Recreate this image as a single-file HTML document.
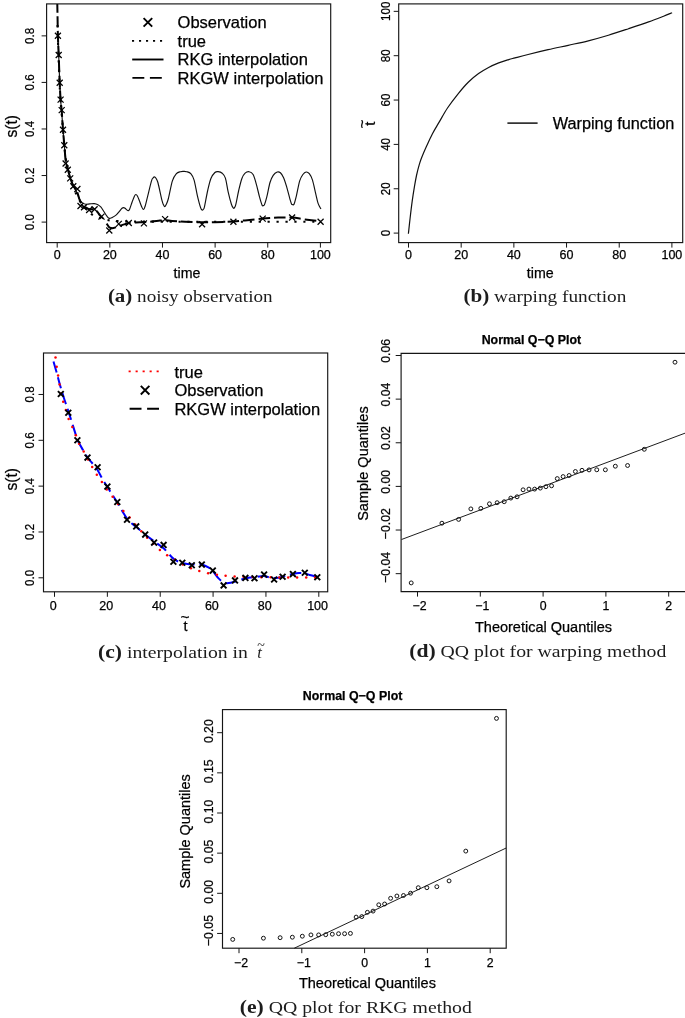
<!DOCTYPE html>
<html lang="en"><head><meta charset="utf-8"><title>Figure</title>
<style>html,body{margin:0;padding:0;background:#fff}svg{display:block}</style>
</head><body>
<svg width="685" height="1018" viewBox="0 0 685 1018">
<rect width="685" height="1018" fill="#fff"/>
<g id="pa">
<path d="M57.9 35.7 C58.03 38.92 58.4 47.17 58.7 55 C59 62.83 59.38 75.27 59.7 82.7 C60.02 90.13 60.27 94.72 60.6 99.6 C60.93 104.48 61.3 106.97 61.7 112 C62.1 117.03 62.57 124.25 63 129.8 C63.43 135.35 63.85 140.23 64.3 145.3 C64.75 150.37 65.12 156.35 65.7 160.2 C66.28 164.05 67.03 165.5 67.8 168.4 C68.57 171.3 69.37 174.7 70.3 177.6 C71.23 180.5 72.28 183.25 73.4 185.8 C74.52 188.35 75.98 190.7 77 192.9 C78.02 195.1 78.65 197.38 79.5 199 C80.35 200.62 81.07 201.73 82.1 202.6 C83.13 203.47 84.43 203.98 85.7 204.2 C86.97 204.42 88.27 204 89.7 203.9 C91.13 203.8 92.93 203.47 94.3 203.6 C95.67 203.73 96.78 204.1 97.9 204.7 C99.02 205.3 99.98 206.02 101 207.2 C102.02 208.38 102.98 210.27 104 211.8 C105.02 213.33 106.22 215.3 107.1 216.4 C107.98 217.5 108.45 218.23 109.3 218.4 C110.15 218.57 111.03 217.98 112.2 217.4 C113.37 216.82 115.1 215.92 116.3 214.9 C117.5 213.88 118.45 212.42 119.4 211.3 C120.35 210.18 121.3 208.82 122 208.2 C122.7 207.58 123.08 207.58 123.6 207.6 C124.12 207.62 124.57 207.92 125.1 208.3 C125.63 208.68 126.28 209.52 126.8 209.9 C127.32 210.28 127.73 210.72 128.2 210.6 C128.67 210.48 128.93 210.67 129.6 209.2 C130.27 207.73 131.4 203.97 132.2 201.8 C133 199.63 133.78 197.42 134.4 196.2 C135.02 194.98 135.4 194.53 135.9 194.5 C136.4 194.47 136.8 194.92 137.4 196 C138 197.08 138.77 199.17 139.5 201 C140.23 202.83 141.13 205.58 141.8 207 C142.47 208.42 142.93 209.67 143.5 209.5 C144.07 209.33 144.53 208.1 145.2 206 C145.87 203.9 146.45 201.08 147.5 196.9 C148.55 192.72 150.55 184.08 151.5 180.9 C152.45 177.72 152.72 178.47 153.2 177.8 C153.68 177.13 153.97 176.87 154.4 176.9 C154.83 176.93 155.22 177.07 155.8 178 C156.38 178.93 156.88 178.82 157.9 182.5 C158.92 186.18 160.95 196.35 161.9 200.1 C162.85 203.85 163.12 203.92 163.6 205 C164.08 206.08 164.37 206.68 164.8 206.6 C165.23 206.52 165.6 205.85 166.2 204.5 C166.8 203.15 167.37 202.43 168.4 198.5 C169.43 194.57 171.07 185.03 172.4 180.9 C173.73 176.77 175.07 175.23 176.4 173.7 C177.73 172.17 179.2 172.08 180.4 171.7 C181.6 171.32 182.53 171.4 183.6 171.4 C184.67 171.4 185.6 171.32 186.8 171.7 C188 172.08 189.58 172.3 190.8 173.7 C192.02 175.1 193.02 176.5 194.1 180.1 C195.18 183.7 196.23 190.75 197.3 195.3 C198.37 199.85 199.7 204.93 200.5 207.4 C201.3 209.87 201.62 209.8 202.1 210.1 C202.58 210.4 203 209.78 203.4 209.2 C203.8 208.62 203.78 209.72 204.5 206.6 C205.22 203.48 206.63 195.18 207.7 190.5 C208.77 185.82 209.7 181.5 210.9 178.5 C212.1 175.5 213.7 173.65 214.9 172.5 C216.1 171.35 216.88 171.48 218.1 171.6 C219.32 171.72 220.98 172.1 222.2 173.2 C223.42 174.3 224.4 175.05 225.4 178.2 C226.4 181.35 227.2 187.77 228.2 192.1 C229.2 196.43 230.53 201.52 231.4 204.2 C232.27 206.88 232.87 207.67 233.4 208.2 C233.93 208.73 234.18 208.07 234.6 207.4 C235.02 206.73 235.22 207.02 235.9 204.2 C236.58 201.38 237.7 194.78 238.7 190.5 C239.7 186.22 240.83 181.38 241.9 178.5 C242.97 175.62 243.9 174.33 245.1 173.2 C246.3 172.07 247.77 171.48 249.1 171.7 C250.43 171.92 251.9 172.43 253.1 174.5 C254.3 176.57 255.23 180.37 256.3 184.1 C257.37 187.83 258.55 193.43 259.5 196.9 C260.45 200.37 261.38 203.45 262 204.9 C262.62 206.35 262.78 205.65 263.2 205.6 C263.62 205.55 263.9 206.05 264.5 204.6 C265.1 203.15 265.88 200.58 266.8 196.9 C267.72 193.22 268.93 186.1 270 182.5 C271.07 178.9 272 177.05 273.2 175.3 C274.4 173.55 276 172.42 277.2 172 C278.4 171.58 279.33 171.85 280.4 172.8 C281.47 173.75 282.53 175.28 283.6 177.7 C284.67 180.12 285.73 183.7 286.8 187.3 C287.87 190.9 289.2 196.48 290 199.3 C290.8 202.12 291.12 203.32 291.6 204.2 C292.08 205.08 292.48 204.63 292.9 204.6 C293.32 204.57 293.5 205.55 294.1 204 C294.7 202.45 295.57 199.15 296.5 195.3 C297.43 191.45 298.63 184.37 299.7 180.9 C300.77 177.43 301.83 175.98 302.9 174.5 C303.97 173.02 305.03 172.13 306.1 172 C307.17 171.87 308.23 172.35 309.3 173.7 C310.37 175.05 311.43 176.77 312.5 180.1 C313.57 183.43 314.77 189.82 315.7 193.7 C316.63 197.58 317.23 200.85 318.1 203.4 C318.97 205.95 320.43 208.07 320.9 209" fill="none" stroke="#111" stroke-width="1.15" stroke-linejoin="round"/>
<path d="M57.5 22 C57.55 24.33 57.63 30.5 57.8 36 C57.97 41.5 58.23 47.67 58.5 55 C58.77 62.33 59.07 72.5 59.4 80 C59.73 87.5 60.1 94.17 60.5 100 C60.9 105.83 61.35 109.67 61.8 115 C62.25 120.33 62.73 126.5 63.2 132 C63.67 137.5 64.1 143 64.6 148 C65.1 153 65.6 158.17 66.2 162 C66.8 165.83 67.47 168.08 68.2 171 C68.93 173.92 69.73 176.83 70.6 179.5 C71.47 182.17 72.52 184.68 73.4 187 C74.28 189.32 74.97 191.32 75.9 193.4 C76.83 195.48 77.82 197.48 79 199.5 C80.18 201.52 81.58 203.67 83 205.5 C84.42 207.33 86.03 209.02 87.5 210.5 C88.97 211.98 90.38 213.38 91.8 214.4 C93.22 215.42 94.63 216 96 216.6 C97.37 217.2 98.58 217.53 100 218 C101.42 218.47 103.02 219.02 104.5 219.4 C105.98 219.78 107.48 220.07 108.9 220.3 C110.32 220.53 111.55 220.68 113 220.8 C114.45 220.92 115.6 220.9 117.6 221 C119.6 221.1 121.27 221.3 125 221.4 C128.73 221.5 130.83 221.55 140 221.6 C149.17 221.65 163.33 221.68 180 221.7 C196.67 221.72 216.5 221.7 240 221.7 C263.5 221.7 307.5 221.7 321 221.7" fill="none" stroke="#000" stroke-width="2.1" stroke-dasharray="2.2 6.7" stroke-dashoffset="-3"/>
<path d="M57.3 4 C57.35 6.67 57.5 14.72 57.6 20 C57.7 25.28 57.72 29.87 57.9 35.7 C58.08 41.53 58.4 47.17 58.7 55 C59 62.83 59.38 75.27 59.7 82.7 C60.02 90.13 60.27 94.88 60.6 99.6 C60.93 104.32 61.3 105.97 61.7 111 C62.1 116.03 62.57 124.08 63 129.8 C63.43 135.52 63.83 140.1 64.3 145.3 C64.77 150.5 65.22 157.02 65.8 161 C66.38 164.98 67.05 166.37 67.8 169.2 C68.55 172.03 69.37 175.2 70.3 178 C71.23 180.8 72.28 183.75 73.4 186 C74.52 188.25 75.98 189.25 77 191.5 C78.02 193.75 78.65 197.33 79.5 199.5 C80.35 201.67 81.25 203.22 82.1 204.5 C82.95 205.78 83.33 206.4 84.6 207.2 C85.87 208 88.17 208.95 89.7 209.3 C91.23 209.65 92.6 208.97 93.8 209.3 C95 209.63 95.87 210.28 96.9 211.3 C97.93 212.32 98.98 214.2 100 215.4 C101.02 216.6 102.5 217.98 103 218.5" fill="none" stroke="#000" stroke-width="2" stroke-dasharray="11.5 3.4" stroke-dashoffset="2.8"/>
<path d="M106.6 223.6 C107.03 224.2 108.27 226.43 109.2 227.2 C110.13 227.97 111.02 228.2 112.2 228.2 C113.38 228.2 114.93 227.63 116.3 227.2 C117.67 226.77 118.95 226.12 120.4 225.6 C121.85 225.08 123.57 224.53 125 224.1 C126.43 223.67 127.17 223.28 129 223 C130.83 222.72 133.5 222.53 136 222.4 C138.5 222.27 141.33 222.33 144 222.2 C146.67 222.07 149.33 221.87 152 221.6 C154.67 221.33 157.82 220.82 160 220.6 C162.18 220.38 163.1 220.25 165.1 220.3 C167.1 220.35 168.68 220.65 172 220.9 C175.32 221.15 180 221.57 185 221.8 C190 222.03 197 222.23 202 222.3 C207 222.37 209.77 222.33 215 222.2 C220.23 222.07 228.4 221.8 233.4 221.5 C238.4 221.2 240.12 220.88 245 220.4 C249.88 219.92 257.2 219.07 262.7 218.6 C268.2 218.13 273.1 217.77 278 217.6 C282.9 217.43 287.6 217.3 292.1 217.6 C296.6 217.9 300.25 218.8 305 219.4 C309.75 220 318 220.9 320.6 221.2" fill="none" stroke="#000" stroke-width="2" stroke-dasharray="11.5 4"/>
<path d="M54.9 32.7 L60.9 38.7 M54.9 38.7 L60.9 32.7" stroke="#000" stroke-width="1.25" fill="none"/>
<path d="M55.7 52 L61.7 58 M55.7 58 L61.7 52" stroke="#000" stroke-width="1.25" fill="none"/>
<path d="M56.7 79.7 L62.7 85.7 M56.7 85.7 L62.7 79.7" stroke="#000" stroke-width="1.25" fill="none"/>
<path d="M57.6 96.6 L63.6 102.6 M57.6 102.6 L63.6 96.6" stroke="#000" stroke-width="1.25" fill="none"/>
<path d="M58.7 107.1 L64.7 113.1 M58.7 113.1 L64.7 107.1" stroke="#000" stroke-width="1.25" fill="none"/>
<path d="M60 126.8 L66 132.8 M60 132.8 L66 126.8" stroke="#000" stroke-width="1.25" fill="none"/>
<path d="M61.3 142.3 L67.3 148.3 M61.3 148.3 L67.3 142.3" stroke="#000" stroke-width="1.25" fill="none"/>
<path d="M62.6 160.5 L68.6 166.5 M62.6 166.5 L68.6 160.5" stroke="#000" stroke-width="1.25" fill="none"/>
<path d="M64.8 166.8 L70.8 172.8 M64.8 172.8 L70.8 166.8" stroke="#000" stroke-width="1.25" fill="none"/>
<path d="M67.2 175.4 L73.2 181.4 M67.2 181.4 L73.2 175.4" stroke="#000" stroke-width="1.25" fill="none"/>
<path d="M70.3 183.2 L76.3 189.2 M70.3 189.2 L76.3 183.2" stroke="#000" stroke-width="1.25" fill="none"/>
<path d="M74.4 186 L80.4 192 M74.4 192 L80.4 186" stroke="#000" stroke-width="1.25" fill="none"/>
<path d="M77.5 203 L83.5 209 M77.5 209 L83.5 203" stroke="#000" stroke-width="1.25" fill="none"/>
<path d="M81 204.2 L87 210.2 M81 210.2 L87 204.2" stroke="#000" stroke-width="1.25" fill="none"/>
<path d="M86.1 207 L92.1 213 M86.1 213 L92.1 207" stroke="#000" stroke-width="1.25" fill="none"/>
<path d="M91.6 206.2 L97.6 212.2 M91.6 212.2 L97.6 206.2" stroke="#000" stroke-width="1.25" fill="none"/>
<path d="M98.5 213.6 L104.5 219.6 M98.5 219.6 L104.5 213.6" stroke="#000" stroke-width="1.25" fill="none"/>
<path d="M106.3 227.5 L112.3 233.5 M106.3 233.5 L112.3 227.5" stroke="#000" stroke-width="1.25" fill="none"/>
<path d="M115.8 220.9 L121.8 226.9 M115.8 226.9 L121.8 220.9" stroke="#000" stroke-width="1.25" fill="none"/>
<path d="M125.8 220 L131.8 226 M125.8 226 L131.8 220" stroke="#000" stroke-width="1.25" fill="none"/>
<path d="M140.9 220.4 L146.9 226.4 M140.9 226.4 L146.9 220.4" stroke="#000" stroke-width="1.25" fill="none"/>
<path d="M162.1 216.1 L168.1 222.1 M162.1 222.1 L168.1 216.1" stroke="#000" stroke-width="1.25" fill="none"/>
<path d="M199.1 221.2 L205.1 227.2 M199.1 227.2 L205.1 221.2" stroke="#000" stroke-width="1.25" fill="none"/>
<path d="M230.4 218.8 L236.4 224.8 M230.4 224.8 L236.4 218.8" stroke="#000" stroke-width="1.25" fill="none"/>
<path d="M259.7 215.6 L265.7 221.6 M259.7 221.6 L265.7 215.6" stroke="#000" stroke-width="1.25" fill="none"/>
<path d="M289.1 214.5 L295.1 220.5 M289.1 220.5 L295.1 214.5" stroke="#000" stroke-width="1.25" fill="none"/>
<path d="M317.6 218.8 L323.6 224.8 M317.6 224.8 L323.6 218.8" stroke="#000" stroke-width="1.25" fill="none"/>
</g>
<rect x="46.6" y="3.9" width="284.1" height="238.7" fill="none" stroke="#151515" stroke-width="1.15"/>
<line x1="57.2" y1="242.6" x2="57.2" y2="247.6" stroke="#151515" stroke-width="1.0"/>
<text x="57.2" y="259.1" font-family="Liberation Sans, Arial, Helvetica, sans-serif" stroke="#000" stroke-width="0.25" font-size="12.5" fill="#000" text-anchor="middle">0</text>
<line x1="109.84" y1="242.6" x2="109.84" y2="247.6" stroke="#151515" stroke-width="1.0"/>
<text x="109.84" y="259.1" font-family="Liberation Sans, Arial, Helvetica, sans-serif" stroke="#000" stroke-width="0.25" font-size="12.5" fill="#000" text-anchor="middle">20</text>
<line x1="162.48" y1="242.6" x2="162.48" y2="247.6" stroke="#151515" stroke-width="1.0"/>
<text x="162.48" y="259.1" font-family="Liberation Sans, Arial, Helvetica, sans-serif" stroke="#000" stroke-width="0.25" font-size="12.5" fill="#000" text-anchor="middle">40</text>
<line x1="215.12" y1="242.6" x2="215.12" y2="247.6" stroke="#151515" stroke-width="1.0"/>
<text x="215.12" y="259.1" font-family="Liberation Sans, Arial, Helvetica, sans-serif" stroke="#000" stroke-width="0.25" font-size="12.5" fill="#000" text-anchor="middle">60</text>
<line x1="267.76" y1="242.6" x2="267.76" y2="247.6" stroke="#151515" stroke-width="1.0"/>
<text x="267.76" y="259.1" font-family="Liberation Sans, Arial, Helvetica, sans-serif" stroke="#000" stroke-width="0.25" font-size="12.5" fill="#000" text-anchor="middle">80</text>
<line x1="320.4" y1="242.6" x2="320.4" y2="247.6" stroke="#151515" stroke-width="1.0"/>
<text x="320.4" y="259.1" font-family="Liberation Sans, Arial, Helvetica, sans-serif" stroke="#000" stroke-width="0.25" font-size="12.5" fill="#000" text-anchor="middle">100</text>
<line x1="41.6" y1="222.1" x2="46.6" y2="222.1" stroke="#151515" stroke-width="1.0"/>
<text transform="translate(34.3 222.1) rotate(-90) scale(0.93 1)" font-family="Liberation Sans, Arial, Helvetica, sans-serif" stroke="#000" stroke-width="0.25" font-size="12.5" fill="#000" text-anchor="middle">0.0</text>
<line x1="41.6" y1="175.54" x2="46.6" y2="175.54" stroke="#151515" stroke-width="1.0"/>
<text transform="translate(34.3 175.54) rotate(-90) scale(0.93 1)" font-family="Liberation Sans, Arial, Helvetica, sans-serif" stroke="#000" stroke-width="0.25" font-size="12.5" fill="#000" text-anchor="middle">0.2</text>
<line x1="41.6" y1="128.98" x2="46.6" y2="128.98" stroke="#151515" stroke-width="1.0"/>
<text transform="translate(34.3 128.98) rotate(-90) scale(0.93 1)" font-family="Liberation Sans, Arial, Helvetica, sans-serif" stroke="#000" stroke-width="0.25" font-size="12.5" fill="#000" text-anchor="middle">0.4</text>
<line x1="41.6" y1="82.42" x2="46.6" y2="82.42" stroke="#151515" stroke-width="1.0"/>
<text transform="translate(34.3 82.42) rotate(-90) scale(0.93 1)" font-family="Liberation Sans, Arial, Helvetica, sans-serif" stroke="#000" stroke-width="0.25" font-size="12.5" fill="#000" text-anchor="middle">0.6</text>
<line x1="41.6" y1="35.86" x2="46.6" y2="35.86" stroke="#151515" stroke-width="1.0"/>
<text transform="translate(34.3 35.86) rotate(-90) scale(0.93 1)" font-family="Liberation Sans, Arial, Helvetica, sans-serif" stroke="#000" stroke-width="0.25" font-size="12.5" fill="#000" text-anchor="middle">0.8</text>
<text x="187" y="277.8" font-family="Liberation Sans, Arial, Helvetica, sans-serif" stroke="#000" stroke-width="0.25" font-size="14.2" fill="#000" text-anchor="middle">time</text>
<text transform="translate(17.1 126.3) rotate(-90)" font-family="Liberation Sans, Arial, Helvetica, sans-serif" stroke="#000" stroke-width="0.25" font-size="15.6" fill="#000" text-anchor="middle">s(t)</text>
<path d="M143.6 18.1 L152.2 26.7 M143.6 26.7 L152.2 18.1" stroke="#000" stroke-width="1.9" fill="none"/>
<line x1="132" y1="40.9" x2="163.5" y2="40.9" stroke="#000" stroke-width="1.9" stroke-dasharray="2.1 4.9"/>
<line x1="132.2" y1="59.5" x2="163.5" y2="59.5" stroke="#000" stroke-width="1.9"/>
<line x1="132.4" y1="77.9" x2="161.8" y2="77.9" stroke="#000" stroke-width="1.9" stroke-dasharray="11.9 5.6"/>
<text x="177.6" y="28.3" font-family="Liberation Sans, Arial, Helvetica, sans-serif" stroke="#000" stroke-width="0.25" font-size="16.5" fill="#000" text-anchor="start">Observation</text>
<text x="177.6" y="46.75" font-family="Liberation Sans, Arial, Helvetica, sans-serif" stroke="#000" stroke-width="0.25" font-size="16.5" fill="#000" text-anchor="start">true</text>
<text x="177.6" y="65.2" font-family="Liberation Sans, Arial, Helvetica, sans-serif" stroke="#000" stroke-width="0.25" font-size="16.5" fill="#000" text-anchor="start">RKG interpolation</text>
<text x="177.6" y="83.65" font-family="Liberation Sans, Arial, Helvetica, sans-serif" stroke="#000" stroke-width="0.25" font-size="16.5" fill="#000" text-anchor="start">RKGW interpolation</text>
<text x="107.9" y="301.6" font-family="Liberation Serif, Times New Roman, serif" font-size="16.8" fill="#1c1c1c" textLength="164.7" lengthAdjust="spacingAndGlyphs"><tspan font-weight="bold" font-size="18.4">(a)</tspan> noisy observation</text>
<path d="M408.4 233.8 C408.68 231.2 409.47 223.65 410.1 218.2 C410.73 212.75 411.48 206.32 412.2 201.1 C412.92 195.88 413.68 191.17 414.4 186.9 C415.12 182.63 415.67 179.3 416.5 175.5 C417.33 171.7 418.45 167.3 419.4 164.1 C420.35 160.9 421.02 159.27 422.2 156.3 C423.38 153.33 424.83 149.98 426.5 146.3 C428.17 142.62 430.07 138.27 432.2 134.2 C434.33 130.13 436.75 126.27 439.3 121.9 C441.85 117.53 444.3 112.77 447.5 108 C450.7 103.23 455 97.63 458.5 93.3 C462 88.97 465.15 85.28 468.5 82 C471.85 78.72 475.25 76.02 478.6 73.6 C481.95 71.18 485.25 69.28 488.6 67.5 C491.95 65.72 495.35 64.22 498.7 62.9 C502.05 61.58 505.98 60.43 508.7 59.6 C511.42 58.77 511.77 58.75 515 57.9 C518.23 57.05 522.58 55.87 528.1 54.5 C533.62 53.13 541.42 51.23 548.1 49.7 C554.78 48.17 561.5 46.78 568.2 45.3 C574.9 43.82 581.6 42.48 588.3 40.8 C595 39.12 601.7 37.22 608.4 35.2 C615.1 33.18 621.8 30.92 628.5 28.7 C635.2 26.48 642.75 23.98 648.6 21.9 C654.45 19.82 659.68 17.73 663.6 16.2 C667.52 14.67 670.68 13.28 672.1 12.7" fill="none" stroke="#111" stroke-width="1.2"/>
<rect x="398.7" y="3.9" width="284" height="238.7" fill="none" stroke="#151515" stroke-width="1.15"/>
<line x1="408.5" y1="242.6" x2="408.5" y2="247.6" stroke="#151515" stroke-width="1.0"/>
<text x="408.5" y="259.1" font-family="Liberation Sans, Arial, Helvetica, sans-serif" stroke="#000" stroke-width="0.25" font-size="12.5" fill="#000" text-anchor="middle">0</text>
<line x1="461.18" y1="242.6" x2="461.18" y2="247.6" stroke="#151515" stroke-width="1.0"/>
<text x="461.18" y="259.1" font-family="Liberation Sans, Arial, Helvetica, sans-serif" stroke="#000" stroke-width="0.25" font-size="12.5" fill="#000" text-anchor="middle">20</text>
<line x1="513.86" y1="242.6" x2="513.86" y2="247.6" stroke="#151515" stroke-width="1.0"/>
<text x="513.86" y="259.1" font-family="Liberation Sans, Arial, Helvetica, sans-serif" stroke="#000" stroke-width="0.25" font-size="12.5" fill="#000" text-anchor="middle">40</text>
<line x1="566.54" y1="242.6" x2="566.54" y2="247.6" stroke="#151515" stroke-width="1.0"/>
<text x="566.54" y="259.1" font-family="Liberation Sans, Arial, Helvetica, sans-serif" stroke="#000" stroke-width="0.25" font-size="12.5" fill="#000" text-anchor="middle">60</text>
<line x1="619.22" y1="242.6" x2="619.22" y2="247.6" stroke="#151515" stroke-width="1.0"/>
<text x="619.22" y="259.1" font-family="Liberation Sans, Arial, Helvetica, sans-serif" stroke="#000" stroke-width="0.25" font-size="12.5" fill="#000" text-anchor="middle">80</text>
<line x1="671.9" y1="242.6" x2="671.9" y2="247.6" stroke="#151515" stroke-width="1.0"/>
<text x="671.9" y="259.1" font-family="Liberation Sans, Arial, Helvetica, sans-serif" stroke="#000" stroke-width="0.25" font-size="12.5" fill="#000" text-anchor="middle">100</text>
<line x1="393.7" y1="233.1" x2="398.7" y2="233.1" stroke="#151515" stroke-width="1.0"/>
<text transform="translate(389.7 233.1) rotate(-90) scale(0.93 1)" font-family="Liberation Sans, Arial, Helvetica, sans-serif" stroke="#000" stroke-width="0.25" font-size="12.5" fill="#000" text-anchor="middle">0</text>
<line x1="393.7" y1="188.75" x2="398.7" y2="188.75" stroke="#151515" stroke-width="1.0"/>
<text transform="translate(389.7 188.75) rotate(-90) scale(0.93 1)" font-family="Liberation Sans, Arial, Helvetica, sans-serif" stroke="#000" stroke-width="0.25" font-size="12.5" fill="#000" text-anchor="middle">20</text>
<line x1="393.7" y1="144.4" x2="398.7" y2="144.4" stroke="#151515" stroke-width="1.0"/>
<text transform="translate(389.7 144.4) rotate(-90) scale(0.93 1)" font-family="Liberation Sans, Arial, Helvetica, sans-serif" stroke="#000" stroke-width="0.25" font-size="12.5" fill="#000" text-anchor="middle">40</text>
<line x1="393.7" y1="100.05" x2="398.7" y2="100.05" stroke="#151515" stroke-width="1.0"/>
<text transform="translate(389.7 100.05) rotate(-90) scale(0.93 1)" font-family="Liberation Sans, Arial, Helvetica, sans-serif" stroke="#000" stroke-width="0.25" font-size="12.5" fill="#000" text-anchor="middle">60</text>
<line x1="393.7" y1="55.7" x2="398.7" y2="55.7" stroke="#151515" stroke-width="1.0"/>
<text transform="translate(389.7 55.7) rotate(-90) scale(0.93 1)" font-family="Liberation Sans, Arial, Helvetica, sans-serif" stroke="#000" stroke-width="0.25" font-size="12.5" fill="#000" text-anchor="middle">80</text>
<line x1="393.7" y1="11.35" x2="398.7" y2="11.35" stroke="#151515" stroke-width="1.0"/>
<text transform="translate(389.7 11.35) rotate(-90) scale(0.93 1)" font-family="Liberation Sans, Arial, Helvetica, sans-serif" stroke="#000" stroke-width="0.25" font-size="12.5" fill="#000" text-anchor="middle">100</text>
<text x="540.2" y="277.8" font-family="Liberation Sans, Arial, Helvetica, sans-serif" stroke="#000" stroke-width="0.25" font-size="14.2" fill="#000" text-anchor="middle">time</text>
<text transform="translate(374.5 123.7) rotate(-90)" font-family="Liberation Sans, Arial, Helvetica, sans-serif" stroke="#000" stroke-width="0.25" font-size="14.7" fill="#000" text-anchor="middle">t</text>
<text transform="translate(366.7 124.0) rotate(-90)" font-family="Liberation Sans, Arial, Helvetica, sans-serif" stroke="#000" stroke-width="0.25" font-size="15.4" fill="#000" text-anchor="middle">~</text>
<line x1="507.4" y1="123.1" x2="537.6" y2="123.1" stroke="#000" stroke-width="1.4"/>
<text x="552.7" y="129" font-family="Liberation Sans, Arial, Helvetica, sans-serif" stroke="#000" stroke-width="0.25" font-size="16.3" fill="#000" text-anchor="start">Warping function</text>
<text x="463.4" y="301.8" font-family="Liberation Serif, Times New Roman, serif" font-size="16.8" fill="#1c1c1c" textLength="162.9" lengthAdjust="spacingAndGlyphs"><tspan font-weight="bold" font-size="18.4">(b)</tspan> warping function</text>
<path d="M53.5 361.4 C54 363.17 55.48 368.3 56.5 372 C57.52 375.7 58.35 379.23 59.6 383.6 C60.85 387.97 62.53 393.58 64 398.2 C65.47 402.82 66.82 406.43 68.4 411.3 C69.98 416.17 71.93 422.53 73.5 427.4 C75.07 432.27 76.22 436.73 77.8 440.5 C79.38 444.27 81.38 447.15 83 450 C84.62 452.85 85.92 455.35 87.5 457.6 C89.08 459.85 90.83 461.43 92.5 463.5 C94.17 465.57 95.83 467.42 97.5 470 C99.17 472.58 100.85 476.17 102.5 479 C104.15 481.83 105.73 484.33 107.4 487 C109.07 489.67 110.85 492.42 112.5 495 C114.15 497.58 115.63 499.75 117.3 502.5 C118.97 505.25 120.88 508.83 122.5 511.5 C124.12 514.17 125.5 516.53 127 518.5 C128.5 520.47 129.97 521.92 131.5 523.3 C133.03 524.68 133.92 524.92 136.2 526.8 C138.48 528.68 142.42 532.33 145.2 534.6 C147.98 536.87 150.77 538.82 152.9 540.4 C155.03 541.98 156.17 542.75 158 544.1 C159.83 545.45 161.7 546.43 163.9 548.5 C166.1 550.57 169.27 554.57 171.2 556.5 C173.13 558.43 173.63 559 175.5 560.1 C177.37 561.2 179.67 562.37 182.4 563.1 C185.13 563.83 189.27 564.38 191.9 564.5 C194.53 564.62 196.55 563.8 198.2 563.8 C199.85 563.8 200.1 563.9 201.8 564.5 C203.5 565.1 206.57 566.3 208.4 567.4 C210.23 568.5 211.1 569.27 212.8 571.1 C214.5 572.93 216.78 576.5 218.6 578.4 C220.42 580.3 222 581.72 223.7 582.5 C225.4 583.28 226.9 583.27 228.8 583.1 C230.7 582.93 232.85 582.15 235.1 581.5 C237.35 580.85 239.83 579.85 242.3 579.2 C244.77 578.55 247.1 578.05 249.9 577.6 C252.7 577.15 256.75 576.77 259.1 576.5 C261.45 576.23 262.2 575.82 264 576 C265.8 576.18 267.9 577.27 269.9 577.6 C271.9 577.93 273.88 578.13 276 578 C278.12 577.87 280.57 577.25 282.6 576.8 C284.63 576.35 286.5 575.77 288.2 575.3 C289.9 574.83 291 574.38 292.8 574 C294.6 573.62 297 573.12 299 573 C301 572.88 303.02 572.97 304.8 573.3 C306.58 573.63 307.6 574.42 309.7 575 C311.8 575.58 316.12 576.5 317.4 576.8" fill="none" stroke="#0000ff" stroke-width="2.0" stroke-dasharray="11.5 5"/>
<circle cx="55.5" cy="357.6" r="1.25" fill="#ff0000"/>
<circle cx="56.7" cy="366.8" r="1.25" fill="#ff0000"/>
<circle cx="58.1" cy="375.5" r="1.25" fill="#ff0000"/>
<circle cx="59.6" cy="384.6" r="1.25" fill="#ff0000"/>
<circle cx="60.8" cy="393.4" r="1.25" fill="#ff0000"/>
<circle cx="63.2" cy="401.8" r="1.25" fill="#ff0000"/>
<circle cx="65.9" cy="410.1" r="1.25" fill="#ff0000"/>
<circle cx="68.6" cy="418.9" r="1.25" fill="#ff0000"/>
<circle cx="72.3" cy="426.9" r="1.25" fill="#ff0000"/>
<circle cx="75.8" cy="435.3" r="1.25" fill="#ff0000"/>
<circle cx="79.1" cy="443.7" r="1.25" fill="#ff0000"/>
<circle cx="83.7" cy="451.5" r="1.25" fill="#ff0000"/>
<circle cx="88" cy="459.5" r="1.25" fill="#ff0000"/>
<circle cx="92.2" cy="467.1" r="1.25" fill="#ff0000"/>
<circle cx="96.8" cy="474.8" r="1.25" fill="#ff0000"/>
<circle cx="101.9" cy="482" r="1.25" fill="#ff0000"/>
<circle cx="106.8" cy="489.6" r="1.25" fill="#ff0000"/>
<circle cx="112.6" cy="496.8" r="1.25" fill="#ff0000"/>
<circle cx="118" cy="504" r="1.25" fill="#ff0000"/>
<circle cx="123.4" cy="510.9" r="1.25" fill="#ff0000"/>
<circle cx="129.6" cy="517.6" r="1.25" fill="#ff0000"/>
<circle cx="135.2" cy="524.6" r="1.25" fill="#ff0000"/>
<circle cx="141.3" cy="531.3" r="1.25" fill="#ff0000"/>
<circle cx="147.1" cy="537.7" r="1.25" fill="#ff0000"/>
<circle cx="153.2" cy="543.8" r="1.25" fill="#ff0000"/>
<circle cx="159.9" cy="549.9" r="1.25" fill="#ff0000"/>
<circle cx="167.2" cy="555.3" r="1.25" fill="#ff0000"/>
<circle cx="174.8" cy="559.7" r="1.25" fill="#ff0000"/>
<circle cx="182.8" cy="564.5" r="1.25" fill="#ff0000"/>
<circle cx="190.9" cy="568.2" r="1.25" fill="#ff0000"/>
<circle cx="199.3" cy="571.1" r="1.25" fill="#ff0000"/>
<circle cx="208.1" cy="573.3" r="1.25" fill="#ff0000"/>
<circle cx="216.9" cy="574.7" r="1.25" fill="#ff0000"/>
<circle cx="225.6" cy="575.8" r="1.25" fill="#ff0000"/>
<circle cx="234.6" cy="576.5" r="1.25" fill="#ff0000"/>
<circle cx="243.5" cy="576.8" r="1.25" fill="#ff0000"/>
<circle cx="252.7" cy="576.9" r="1.25" fill="#ff0000"/>
<circle cx="261.4" cy="577.2" r="1.25" fill="#ff0000"/>
<circle cx="270.6" cy="577.2" r="1.25" fill="#ff0000"/>
<circle cx="279.4" cy="577.5" r="1.25" fill="#ff0000"/>
<circle cx="288.2" cy="577.5" r="1.25" fill="#ff0000"/>
<circle cx="297.1" cy="577.5" r="1.25" fill="#ff0000"/>
<circle cx="306.2" cy="577.5" r="1.25" fill="#ff0000"/>
<circle cx="315.1" cy="577.5" r="1.25" fill="#ff0000"/>
<path d="M57.9 391.1 L63.7 396.9 M57.9 396.9 L63.7 391.1" stroke="#000" stroke-width="1.9" fill="none"/>
<path d="M65.4 409.9 L71.2 415.7 M65.4 415.7 L71.2 409.9" stroke="#000" stroke-width="1.9" fill="none"/>
<path d="M74.5 437.4 L80.3 443.2 M74.5 443.2 L80.3 437.4" stroke="#000" stroke-width="1.9" fill="none"/>
<path d="M84.6 454.7 L90.4 460.5 M84.6 460.5 L90.4 454.7" stroke="#000" stroke-width="1.9" fill="none"/>
<path d="M94.7 464.4 L100.5 470.2 M94.7 470.2 L100.5 464.4" stroke="#000" stroke-width="1.9" fill="none"/>
<path d="M104.5 483.7 L110.3 489.5 M104.5 489.5 L110.3 483.7" stroke="#000" stroke-width="1.9" fill="none"/>
<path d="M114.4 499.1 L120.2 504.9 M114.4 504.9 L120.2 499.1" stroke="#000" stroke-width="1.9" fill="none"/>
<path d="M124.1 516.9 L129.9 522.7 M124.1 522.7 L129.9 516.9" stroke="#000" stroke-width="1.9" fill="none"/>
<path d="M133.3 523.5 L139.1 529.3 M133.3 529.3 L139.1 523.5" stroke="#000" stroke-width="1.9" fill="none"/>
<path d="M142.3 531.7 L148.1 537.5 M142.3 537.5 L148.1 531.7" stroke="#000" stroke-width="1.9" fill="none"/>
<path d="M151.2 539.7 L157 545.5 M151.2 545.5 L157 539.7" stroke="#000" stroke-width="1.9" fill="none"/>
<path d="M160.7 542 L166.5 547.8 M160.7 547.8 L166.5 542" stroke="#000" stroke-width="1.9" fill="none"/>
<path d="M170.5 558.9 L176.3 564.7 M170.5 564.7 L176.3 558.9" stroke="#000" stroke-width="1.9" fill="none"/>
<path d="M179.4 559.8 L185.2 565.6 M179.4 565.6 L185.2 559.8" stroke="#000" stroke-width="1.9" fill="none"/>
<path d="M188.9 562.4 L194.7 568.2 M188.9 568.2 L194.7 562.4" stroke="#000" stroke-width="1.9" fill="none"/>
<path d="M198.9 561.7 L204.7 567.5 M198.9 567.5 L204.7 561.7" stroke="#000" stroke-width="1.9" fill="none"/>
<path d="M209.9 567.7 L215.7 573.5 M209.9 573.5 L215.7 567.7" stroke="#000" stroke-width="1.9" fill="none"/>
<path d="M220.7 582.5 L226.5 588.3 M220.7 588.3 L226.5 582.5" stroke="#000" stroke-width="1.9" fill="none"/>
<path d="M232.1 577.5 L237.9 583.3 M232.1 583.3 L237.9 577.5" stroke="#000" stroke-width="1.9" fill="none"/>
<path d="M242.5 575 L248.3 580.8 M242.5 580.8 L248.3 575" stroke="#000" stroke-width="1.9" fill="none"/>
<path d="M251.6 575.4 L257.4 581.2 M251.6 581.2 L257.4 575.4" stroke="#000" stroke-width="1.9" fill="none"/>
<path d="M261.2 571.7 L267 577.5 M261.2 577.5 L267 571.7" stroke="#000" stroke-width="1.9" fill="none"/>
<path d="M271.2 576.6 L277 582.4 M271.2 582.4 L277 576.6" stroke="#000" stroke-width="1.9" fill="none"/>
<path d="M279.7 573.9 L285.5 579.7 M279.7 579.7 L285.5 573.9" stroke="#000" stroke-width="1.9" fill="none"/>
<path d="M290 571.2 L295.8 577 M290 577 L295.8 571.2" stroke="#000" stroke-width="1.9" fill="none"/>
<path d="M301.9 569.8 L307.7 575.6 M301.9 575.6 L307.7 569.8" stroke="#000" stroke-width="1.9" fill="none"/>
<path d="M314.4 574.3 L320.2 580.1 M314.4 580.1 L320.2 574.3" stroke="#000" stroke-width="1.9" fill="none"/>
<rect x="43.5" y="353" width="284.2" height="238.8" fill="none" stroke="#151515" stroke-width="1.15"/>
<line x1="54.5" y1="591.8" x2="54.5" y2="596.8" stroke="#151515" stroke-width="1.0"/>
<text x="53.3" y="610.4" font-family="Liberation Sans, Arial, Helvetica, sans-serif" stroke="#000" stroke-width="0.25" font-size="12.5" fill="#000" text-anchor="middle">0</text>
<line x1="107.36" y1="591.8" x2="107.36" y2="596.8" stroke="#151515" stroke-width="1.0"/>
<text x="106.16" y="610.4" font-family="Liberation Sans, Arial, Helvetica, sans-serif" stroke="#000" stroke-width="0.25" font-size="12.5" fill="#000" text-anchor="middle">20</text>
<line x1="160.22" y1="591.8" x2="160.22" y2="596.8" stroke="#151515" stroke-width="1.0"/>
<text x="159.02" y="610.4" font-family="Liberation Sans, Arial, Helvetica, sans-serif" stroke="#000" stroke-width="0.25" font-size="12.5" fill="#000" text-anchor="middle">40</text>
<line x1="213.08" y1="591.8" x2="213.08" y2="596.8" stroke="#151515" stroke-width="1.0"/>
<text x="211.88" y="610.4" font-family="Liberation Sans, Arial, Helvetica, sans-serif" stroke="#000" stroke-width="0.25" font-size="12.5" fill="#000" text-anchor="middle">60</text>
<line x1="265.94" y1="591.8" x2="265.94" y2="596.8" stroke="#151515" stroke-width="1.0"/>
<text x="264.74" y="610.4" font-family="Liberation Sans, Arial, Helvetica, sans-serif" stroke="#000" stroke-width="0.25" font-size="12.5" fill="#000" text-anchor="middle">80</text>
<line x1="318.8" y1="591.8" x2="318.8" y2="596.8" stroke="#151515" stroke-width="1.0"/>
<text x="317.6" y="610.4" font-family="Liberation Sans, Arial, Helvetica, sans-serif" stroke="#000" stroke-width="0.25" font-size="12.5" fill="#000" text-anchor="middle">100</text>
<line x1="38.5" y1="577.8" x2="43.5" y2="577.8" stroke="#151515" stroke-width="1.0"/>
<text transform="translate(34.3 577.8) rotate(-90) scale(0.93 1)" font-family="Liberation Sans, Arial, Helvetica, sans-serif" stroke="#000" stroke-width="0.25" font-size="12.5" fill="#000" text-anchor="middle">0.0</text>
<line x1="38.5" y1="531.97" x2="43.5" y2="531.97" stroke="#151515" stroke-width="1.0"/>
<text transform="translate(34.3 531.97) rotate(-90) scale(0.93 1)" font-family="Liberation Sans, Arial, Helvetica, sans-serif" stroke="#000" stroke-width="0.25" font-size="12.5" fill="#000" text-anchor="middle">0.2</text>
<line x1="38.5" y1="486.14" x2="43.5" y2="486.14" stroke="#151515" stroke-width="1.0"/>
<text transform="translate(34.3 486.14) rotate(-90) scale(0.93 1)" font-family="Liberation Sans, Arial, Helvetica, sans-serif" stroke="#000" stroke-width="0.25" font-size="12.5" fill="#000" text-anchor="middle">0.4</text>
<line x1="38.5" y1="440.31" x2="43.5" y2="440.31" stroke="#151515" stroke-width="1.0"/>
<text transform="translate(34.3 440.31) rotate(-90) scale(0.93 1)" font-family="Liberation Sans, Arial, Helvetica, sans-serif" stroke="#000" stroke-width="0.25" font-size="12.5" fill="#000" text-anchor="middle">0.6</text>
<line x1="38.5" y1="394.48" x2="43.5" y2="394.48" stroke="#151515" stroke-width="1.0"/>
<text transform="translate(34.3 394.48) rotate(-90) scale(0.93 1)" font-family="Liberation Sans, Arial, Helvetica, sans-serif" stroke="#000" stroke-width="0.25" font-size="12.5" fill="#000" text-anchor="middle">0.8</text>
<text transform="translate(17.1 479.3) rotate(-90)" font-family="Liberation Sans, Arial, Helvetica, sans-serif" stroke="#000" stroke-width="0.25" font-size="15.6" fill="#000" text-anchor="middle">s(t)</text>
<text x="185.4" y="630.6" font-family="Liberation Sans, Arial, Helvetica, sans-serif" stroke="#000" stroke-width="0.25" font-size="14.4" fill="#000" text-anchor="middle">t</text>
<text x="185.1" y="622" font-family="Liberation Sans, Arial, Helvetica, sans-serif" stroke="#000" stroke-width="0.25" font-size="15.4" fill="#000" text-anchor="middle">~</text>
<line x1="128.6" y1="371.4" x2="160" y2="371.4" stroke="#ff0000" stroke-width="1.9" stroke-dasharray="2.1 4.9"/>
<path d="M140.8 385.9 L149.4 394.5 M140.8 394.5 L149.4 385.9" stroke="#000" stroke-width="1.9" fill="none"/>
<line x1="129.6" y1="408.8" x2="159" y2="408.8" stroke="#000" stroke-width="1.9" stroke-dasharray="11.9 5.6"/>
<text x="174.4" y="377.6" font-family="Liberation Sans, Arial, Helvetica, sans-serif" stroke="#000" stroke-width="0.25" font-size="16.5" fill="#000" text-anchor="start">true</text>
<text x="174.4" y="396.3" font-family="Liberation Sans, Arial, Helvetica, sans-serif" stroke="#000" stroke-width="0.25" font-size="16.5" fill="#000" text-anchor="start">Observation</text>
<text x="174.4" y="415" font-family="Liberation Sans, Arial, Helvetica, sans-serif" stroke="#000" stroke-width="0.25" font-size="16.5" fill="#000" text-anchor="start">RKGW interpolation</text>
<text x="98.1" y="657.5" font-family="Liberation Serif, Times New Roman, serif" font-size="16.8" fill="#1c1c1c" textLength="149.8" lengthAdjust="spacingAndGlyphs"><tspan font-weight="bold" font-size="18.4">(c)</tspan> interpolation in</text>
<text x="257.2" y="657.5" font-family="Liberation Serif, Times New Roman, serif" font-size="16.6" font-style="italic" fill="#1c1c1c">t</text>
<text x="257.3" y="649.5" font-family="Liberation Serif, Times New Roman, serif" font-size="14" fill="#1c1c1c">~</text>
<g id="pd">
<line x1="401.5" y1="539.5" x2="686" y2="432.8" stroke="#111" stroke-width="0.95"/>
</g>
<path d="M690 353.4 H401.1 V591.6 H690" fill="none" stroke="#151515" stroke-width="1.15"/>
<line x1="417.5" y1="591.6" x2="417.5" y2="596.6" stroke="#151515" stroke-width="1.0"/>
<text x="419.5" y="610" font-family="Liberation Sans, Arial, Helvetica, sans-serif" stroke="#000" stroke-width="0.25" font-size="12.3" fill="#000" text-anchor="middle">−2</text>
<line x1="480.3" y1="591.6" x2="480.3" y2="596.6" stroke="#151515" stroke-width="1.0"/>
<text x="482.3" y="610" font-family="Liberation Sans, Arial, Helvetica, sans-serif" stroke="#000" stroke-width="0.25" font-size="12.3" fill="#000" text-anchor="middle">−1</text>
<line x1="543.1" y1="591.6" x2="543.1" y2="596.6" stroke="#151515" stroke-width="1.0"/>
<text x="543.1" y="610" font-family="Liberation Sans, Arial, Helvetica, sans-serif" stroke="#000" stroke-width="0.25" font-size="12.3" fill="#000" text-anchor="middle">0</text>
<line x1="605.9" y1="591.6" x2="605.9" y2="596.6" stroke="#151515" stroke-width="1.0"/>
<text x="605.9" y="610" font-family="Liberation Sans, Arial, Helvetica, sans-serif" stroke="#000" stroke-width="0.25" font-size="12.3" fill="#000" text-anchor="middle">1</text>
<line x1="668.7" y1="591.6" x2="668.7" y2="596.6" stroke="#151515" stroke-width="1.0"/>
<text x="668.7" y="610" font-family="Liberation Sans, Arial, Helvetica, sans-serif" stroke="#000" stroke-width="0.25" font-size="12.3" fill="#000" text-anchor="middle">2</text>
<line x1="395.7" y1="573.66" x2="401.1" y2="573.66" stroke="#151515" stroke-width="1.0"/>
<text transform="translate(390 567.36) rotate(-90) scale(0.95 1)" font-family="Liberation Sans, Arial, Helvetica, sans-serif" stroke="#000" stroke-width="0.25" font-size="12.9" fill="#000" text-anchor="middle">−0.04</text>
<line x1="395.7" y1="530.03" x2="401.1" y2="530.03" stroke="#151515" stroke-width="1.0"/>
<text transform="translate(390 523.73) rotate(-90) scale(0.95 1)" font-family="Liberation Sans, Arial, Helvetica, sans-serif" stroke="#000" stroke-width="0.25" font-size="12.9" fill="#000" text-anchor="middle">−0.02</text>
<line x1="395.7" y1="486.4" x2="401.1" y2="486.4" stroke="#151515" stroke-width="1.0"/>
<text transform="translate(390 481.8) rotate(-90) scale(0.95 1)" font-family="Liberation Sans, Arial, Helvetica, sans-serif" stroke="#000" stroke-width="0.25" font-size="12.9" fill="#000" text-anchor="middle">0.00</text>
<line x1="395.7" y1="442.77" x2="401.1" y2="442.77" stroke="#151515" stroke-width="1.0"/>
<text transform="translate(390 438.17) rotate(-90) scale(0.95 1)" font-family="Liberation Sans, Arial, Helvetica, sans-serif" stroke="#000" stroke-width="0.25" font-size="12.9" fill="#000" text-anchor="middle">0.02</text>
<line x1="395.7" y1="399.14" x2="401.1" y2="399.14" stroke="#151515" stroke-width="1.0"/>
<text transform="translate(390 394.54) rotate(-90) scale(0.95 1)" font-family="Liberation Sans, Arial, Helvetica, sans-serif" stroke="#000" stroke-width="0.25" font-size="12.9" fill="#000" text-anchor="middle">0.04</text>
<line x1="395.7" y1="355.51" x2="401.1" y2="355.51" stroke="#151515" stroke-width="1.0"/>
<text transform="translate(390 350.91) rotate(-90) scale(0.95 1)" font-family="Liberation Sans, Arial, Helvetica, sans-serif" stroke="#000" stroke-width="0.25" font-size="12.9" fill="#000" text-anchor="middle">0.06</text>
<text x="543.5" y="631.8" font-family="Liberation Sans, Arial, Helvetica, sans-serif" stroke="#000" stroke-width="0.25" font-size="14.5" fill="#000" text-anchor="middle">Theoretical Quantiles</text>
<text transform="translate(368 463.6) rotate(-90)" font-family="Liberation Sans, Arial, Helvetica, sans-serif" stroke="#000" stroke-width="0.25" font-size="14.5" fill="#000" text-anchor="middle">Sample Quantiles</text>
<text x="531.4" y="343.8" font-family="Liberation Sans, Arial, Helvetica, sans-serif" stroke="#000" stroke-width="0.25" font-size="12.4" font-weight="bold" fill="#000" text-anchor="middle">Normal Q−Q Plot</text>
<text x="409.2" y="657.2" font-family="Liberation Serif, Times New Roman, serif" font-size="16.8" fill="#1c1c1c" textLength="257.1" lengthAdjust="spacingAndGlyphs"><tspan font-weight="bold" font-size="18.4">(d)</tspan> QQ plot for warping method</text>
<line x1="294.3" y1="948.2" x2="506.2" y2="848.0" stroke="#111" stroke-width="0.95"/>
<rect x="222.5" y="709.6" width="283.7" height="238.6" fill="none" stroke="#151515" stroke-width="1.15"/>
<line x1="239" y1="948.2" x2="239" y2="953.2" stroke="#151515" stroke-width="1.0"/>
<text x="241" y="966.6" font-family="Liberation Sans, Arial, Helvetica, sans-serif" stroke="#000" stroke-width="0.25" font-size="12.3" fill="#000" text-anchor="middle">−2</text>
<line x1="301.8" y1="948.2" x2="301.8" y2="953.2" stroke="#151515" stroke-width="1.0"/>
<text x="303.8" y="966.6" font-family="Liberation Sans, Arial, Helvetica, sans-serif" stroke="#000" stroke-width="0.25" font-size="12.3" fill="#000" text-anchor="middle">−1</text>
<line x1="364.6" y1="948.2" x2="364.6" y2="953.2" stroke="#151515" stroke-width="1.0"/>
<text x="364.6" y="966.6" font-family="Liberation Sans, Arial, Helvetica, sans-serif" stroke="#000" stroke-width="0.25" font-size="12.3" fill="#000" text-anchor="middle">0</text>
<line x1="427.4" y1="948.2" x2="427.4" y2="953.2" stroke="#151515" stroke-width="1.0"/>
<text x="427.4" y="966.6" font-family="Liberation Sans, Arial, Helvetica, sans-serif" stroke="#000" stroke-width="0.25" font-size="12.3" fill="#000" text-anchor="middle">1</text>
<line x1="490.2" y1="948.2" x2="490.2" y2="953.2" stroke="#151515" stroke-width="1.0"/>
<text x="490.2" y="966.6" font-family="Liberation Sans, Arial, Helvetica, sans-serif" stroke="#000" stroke-width="0.25" font-size="12.3" fill="#000" text-anchor="middle">2</text>
<line x1="217.1" y1="933.45" x2="222.5" y2="933.45" stroke="#151515" stroke-width="1.0"/>
<text transform="translate(212.6 930.55) rotate(-90) scale(0.95 1)" font-family="Liberation Sans, Arial, Helvetica, sans-serif" stroke="#000" stroke-width="0.25" font-size="12.9" fill="#000" text-anchor="middle">−0.05</text>
<line x1="217.1" y1="893.3" x2="222.5" y2="893.3" stroke="#151515" stroke-width="1.0"/>
<text transform="translate(212.6 891.8) rotate(-90) scale(0.95 1)" font-family="Liberation Sans, Arial, Helvetica, sans-serif" stroke="#000" stroke-width="0.25" font-size="12.9" fill="#000" text-anchor="middle">0.00</text>
<line x1="217.1" y1="853.15" x2="222.5" y2="853.15" stroke="#151515" stroke-width="1.0"/>
<text transform="translate(212.6 851.65) rotate(-90) scale(0.95 1)" font-family="Liberation Sans, Arial, Helvetica, sans-serif" stroke="#000" stroke-width="0.25" font-size="12.9" fill="#000" text-anchor="middle">0.05</text>
<line x1="217.1" y1="813" x2="222.5" y2="813" stroke="#151515" stroke-width="1.0"/>
<text transform="translate(212.6 811.5) rotate(-90) scale(0.95 1)" font-family="Liberation Sans, Arial, Helvetica, sans-serif" stroke="#000" stroke-width="0.25" font-size="12.9" fill="#000" text-anchor="middle">0.10</text>
<line x1="217.1" y1="772.85" x2="222.5" y2="772.85" stroke="#151515" stroke-width="1.0"/>
<text transform="translate(212.6 771.35) rotate(-90) scale(0.95 1)" font-family="Liberation Sans, Arial, Helvetica, sans-serif" stroke="#000" stroke-width="0.25" font-size="12.9" fill="#000" text-anchor="middle">0.15</text>
<line x1="217.1" y1="732.7" x2="222.5" y2="732.7" stroke="#151515" stroke-width="1.0"/>
<text transform="translate(212.6 731.2) rotate(-90) scale(0.95 1)" font-family="Liberation Sans, Arial, Helvetica, sans-serif" stroke="#000" stroke-width="0.25" font-size="12.9" fill="#000" text-anchor="middle">0.20</text>
<text x="367.4" y="987.9" font-family="Liberation Sans, Arial, Helvetica, sans-serif" stroke="#000" stroke-width="0.25" font-size="14.5" fill="#000" text-anchor="middle">Theoretical Quantiles</text>
<text transform="translate(190.2 831.4) rotate(-90)" font-family="Liberation Sans, Arial, Helvetica, sans-serif" stroke="#000" stroke-width="0.25" font-size="14.5" fill="#000" text-anchor="middle">Sample Quantiles</text>
<text x="352.6" y="700.2" font-family="Liberation Sans, Arial, Helvetica, sans-serif" stroke="#000" stroke-width="0.25" font-size="12.4" font-weight="bold" fill="#000" text-anchor="middle">Normal Q−Q Plot</text>
<text x="239.7" y="1012.5" font-family="Liberation Serif, Times New Roman, serif" font-size="16.8" fill="#1c1c1c" textLength="232.2" lengthAdjust="spacingAndGlyphs"><tspan font-weight="bold" font-size="18.4">(e)</tspan> QQ plot for RKG method</text>
<circle cx="411.21" cy="582.9" r="1.95" fill="none" stroke="#111" stroke-width="1.0"/>
<circle cx="441.92" cy="523.2" r="1.95" fill="none" stroke="#111" stroke-width="1.0"/>
<circle cx="458.62" cy="519.4" r="1.95" fill="none" stroke="#111" stroke-width="1.0"/>
<circle cx="470.86" cy="508.9" r="1.95" fill="none" stroke="#111" stroke-width="1.0"/>
<circle cx="480.83" cy="508.4" r="1.95" fill="none" stroke="#111" stroke-width="1.0"/>
<circle cx="489.44" cy="503.8" r="1.95" fill="none" stroke="#111" stroke-width="1.0"/>
<circle cx="497.14" cy="502.7" r="1.95" fill="none" stroke="#111" stroke-width="1.0"/>
<circle cx="504.21" cy="501.7" r="1.95" fill="none" stroke="#111" stroke-width="1.0"/>
<circle cx="510.81" cy="498.1" r="1.95" fill="none" stroke="#111" stroke-width="1.0"/>
<circle cx="517.07" cy="496.8" r="1.95" fill="none" stroke="#111" stroke-width="1.0"/>
<circle cx="523.09" cy="489.8" r="1.95" fill="none" stroke="#111" stroke-width="1.0"/>
<circle cx="528.93" cy="489.1" r="1.95" fill="none" stroke="#111" stroke-width="1.0"/>
<circle cx="534.64" cy="489.1" r="1.95" fill="none" stroke="#111" stroke-width="1.0"/>
<circle cx="540.29" cy="488.1" r="1.95" fill="none" stroke="#111" stroke-width="1.0"/>
<circle cx="545.91" cy="486.7" r="1.95" fill="none" stroke="#111" stroke-width="1.0"/>
<circle cx="551.56" cy="485.8" r="1.95" fill="none" stroke="#111" stroke-width="1.0"/>
<circle cx="557.27" cy="478.6" r="1.95" fill="none" stroke="#111" stroke-width="1.0"/>
<circle cx="563.11" cy="476.6" r="1.95" fill="none" stroke="#111" stroke-width="1.0"/>
<circle cx="569.13" cy="475.5" r="1.95" fill="none" stroke="#111" stroke-width="1.0"/>
<circle cx="575.39" cy="471.5" r="1.95" fill="none" stroke="#111" stroke-width="1.0"/>
<circle cx="581.99" cy="470.3" r="1.95" fill="none" stroke="#111" stroke-width="1.0"/>
<circle cx="589.06" cy="469.9" r="1.95" fill="none" stroke="#111" stroke-width="1.0"/>
<circle cx="596.76" cy="469.8" r="1.95" fill="none" stroke="#111" stroke-width="1.0"/>
<circle cx="605.37" cy="469.8" r="1.95" fill="none" stroke="#111" stroke-width="1.0"/>
<circle cx="615.34" cy="466.2" r="1.95" fill="none" stroke="#111" stroke-width="1.0"/>
<circle cx="627.58" cy="465.5" r="1.95" fill="none" stroke="#111" stroke-width="1.0"/>
<circle cx="644.28" cy="449.3" r="1.95" fill="none" stroke="#111" stroke-width="1.0"/>
<circle cx="674.99" cy="362.2" r="1.95" fill="none" stroke="#111" stroke-width="1.0"/>
<circle cx="232.71" cy="939.4" r="1.95" fill="none" stroke="#111" stroke-width="1.0"/>
<circle cx="263.42" cy="938.2" r="1.95" fill="none" stroke="#111" stroke-width="1.0"/>
<circle cx="280.12" cy="937.7" r="1.95" fill="none" stroke="#111" stroke-width="1.0"/>
<circle cx="292.36" cy="937.2" r="1.95" fill="none" stroke="#111" stroke-width="1.0"/>
<circle cx="302.33" cy="936.2" r="1.95" fill="none" stroke="#111" stroke-width="1.0"/>
<circle cx="310.94" cy="934.9" r="1.95" fill="none" stroke="#111" stroke-width="1.0"/>
<circle cx="318.64" cy="934.9" r="1.95" fill="none" stroke="#111" stroke-width="1.0"/>
<circle cx="325.71" cy="934.7" r="1.95" fill="none" stroke="#111" stroke-width="1.0"/>
<circle cx="332.31" cy="934.2" r="1.95" fill="none" stroke="#111" stroke-width="1.0"/>
<circle cx="338.57" cy="933.7" r="1.95" fill="none" stroke="#111" stroke-width="1.0"/>
<circle cx="344.59" cy="933.7" r="1.95" fill="none" stroke="#111" stroke-width="1.0"/>
<circle cx="350.43" cy="933.4" r="1.95" fill="none" stroke="#111" stroke-width="1.0"/>
<circle cx="356.14" cy="917.1" r="1.95" fill="none" stroke="#111" stroke-width="1.0"/>
<circle cx="361.79" cy="916.6" r="1.95" fill="none" stroke="#111" stroke-width="1.0"/>
<circle cx="367.41" cy="912.3" r="1.95" fill="none" stroke="#111" stroke-width="1.0"/>
<circle cx="373.06" cy="911.1" r="1.95" fill="none" stroke="#111" stroke-width="1.0"/>
<circle cx="378.77" cy="904.8" r="1.95" fill="none" stroke="#111" stroke-width="1.0"/>
<circle cx="384.61" cy="904" r="1.95" fill="none" stroke="#111" stroke-width="1.0"/>
<circle cx="390.63" cy="898.3" r="1.95" fill="none" stroke="#111" stroke-width="1.0"/>
<circle cx="396.89" cy="896" r="1.95" fill="none" stroke="#111" stroke-width="1.0"/>
<circle cx="403.49" cy="895.5" r="1.95" fill="none" stroke="#111" stroke-width="1.0"/>
<circle cx="410.56" cy="893.2" r="1.95" fill="none" stroke="#111" stroke-width="1.0"/>
<circle cx="418.26" cy="887.7" r="1.95" fill="none" stroke="#111" stroke-width="1.0"/>
<circle cx="426.87" cy="887.7" r="1.95" fill="none" stroke="#111" stroke-width="1.0"/>
<circle cx="436.84" cy="886.7" r="1.95" fill="none" stroke="#111" stroke-width="1.0"/>
<circle cx="449.08" cy="880.9" r="1.95" fill="none" stroke="#111" stroke-width="1.0"/>
<circle cx="465.78" cy="851.1" r="1.95" fill="none" stroke="#111" stroke-width="1.0"/>
<circle cx="496.49" cy="718.4" r="1.95" fill="none" stroke="#111" stroke-width="1.0"/>
</svg>
</body></html>
